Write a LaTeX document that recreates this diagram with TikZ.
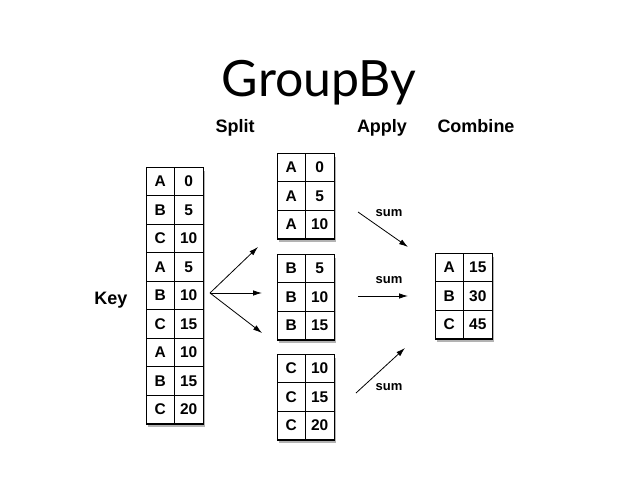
\documentclass[tikz,border=0pt]{standalone}
\usepackage{fontspec}
\setmainfont{Liberation Sans}
\newfontfamily\titlefont{Lato}
\usepackage{tikz}
\usetikzlibrary{arrows.meta,positioning,shadows}

\begin{document}
\begin{tikzpicture}[x=1pt,y=-1pt,
  cellstyle/.style={draw,line width=0.9pt,minimum width=28.5pt,minimum height=28.5pt,inner sep=0pt,font=\fontsize{15.5}{15.5}\selectfont\bfseries},
  tablebox/.style={draw,fill=white,line width=0.9pt,anchor=north west,minimum width=57pt,inner sep=0pt,
    drop shadow={shadow xshift=1.5pt,shadow yshift=-3.5pt,opacity=0.6}},
  headstyle/.style={font=\fontsize{18}{18}\selectfont\bfseries,anchor=base},
  sumstyle/.style={font=\fontsize{13}{13}\selectfont\bfseries},
  arrowstyle/.style={line width=0.8pt,-{Latex[length=9pt,width=5.5pt]}}]
\useasboundingbox (0,0) rectangle (638,479);

% title and headings
\node[anchor=base,font=\titlefont\fontsize{50}{50}\selectfont] (title) at (319,96) {GroupBy};
\node[headstyle] (split) at (235,132) {Split};
\node[headstyle] (apply) at (382,132) {Apply};
\node[headstyle] (combine) at (476,132) {Combine};
\node[headstyle] (key) at (111,304) {Key};

% key table
\node[tablebox,minimum height=256.5pt] (keytab) at (146,167) {};
\foreach \k/\v [count=\i] in {A/0,B/5,C/10,A/5,B/10,C/15,A/10,B/15,C/20}
{
  \node[cellstyle] (key-k\i) at (160.25,152.75+28.5*\i) {\k};
  \node[cellstyle] (key-v\i) at (188.75,152.75+28.5*\i) {\v};
}

% split tables
\foreach \g/\top/\vals in {a/153/{0,5,10},b/254/{5,10,15},c/354/{10,15,20}}
{
  \node[tablebox,minimum height=85.5pt] (split-\g) at (277,\top) {};
  \foreach \v [count=\i] in \vals
  {
    \node[cellstyle] (split-\g-k\i) at (291.25,\top-14.25+28.5*\i) {\MakeUppercase{\g}};
    \node[cellstyle] (split-\g-v\i) at (319.75,\top-14.25+28.5*\i) {\v};
  }
}

% combined table
\node[tablebox,minimum height=85.5pt] (sumtab) at (435,253) {};
\foreach \k/\v [count=\i] in {A/15,B/30,C/45}
{
  \node[cellstyle] (sum-k\i) at (449.25,238.75+28.5*\i) {\k};
  \node[cellstyle] (sum-v\i) at (477.75,238.75+28.5*\i) {\v};
}

% split arrows
\coordinate (fork) at (210,293);
\coordinate (to-a) at (258,247);
\coordinate (to-b) at (262,293);
\coordinate (to-c) at (262,333);
\draw[arrowstyle] (fork) -- (to-a);
\draw[arrowstyle] (fork) -- (to-b);
\draw[arrowstyle] (fork) -- (to-c);

% apply arrows
\coordinate (from-a) at (358,212);
\coordinate (into-a) at (408,247);
\coordinate (from-b) at (358,296);
\coordinate (into-b) at (408,296);
\coordinate (from-c) at (356,393);
\coordinate (into-c) at (405,348);
\draw[arrowstyle] (from-a) -- (into-a);
\draw[arrowstyle] (from-b) -- (into-b);
\draw[arrowstyle] (from-c) -- (into-c);
\node[sumstyle] (sum-a) at (389,213) {sum};
\node[sumstyle] (sum-b) at (389,280) {sum};
\node[sumstyle] (sum-c) at (389,387) {sum};
\end{tikzpicture}
\end{document}
